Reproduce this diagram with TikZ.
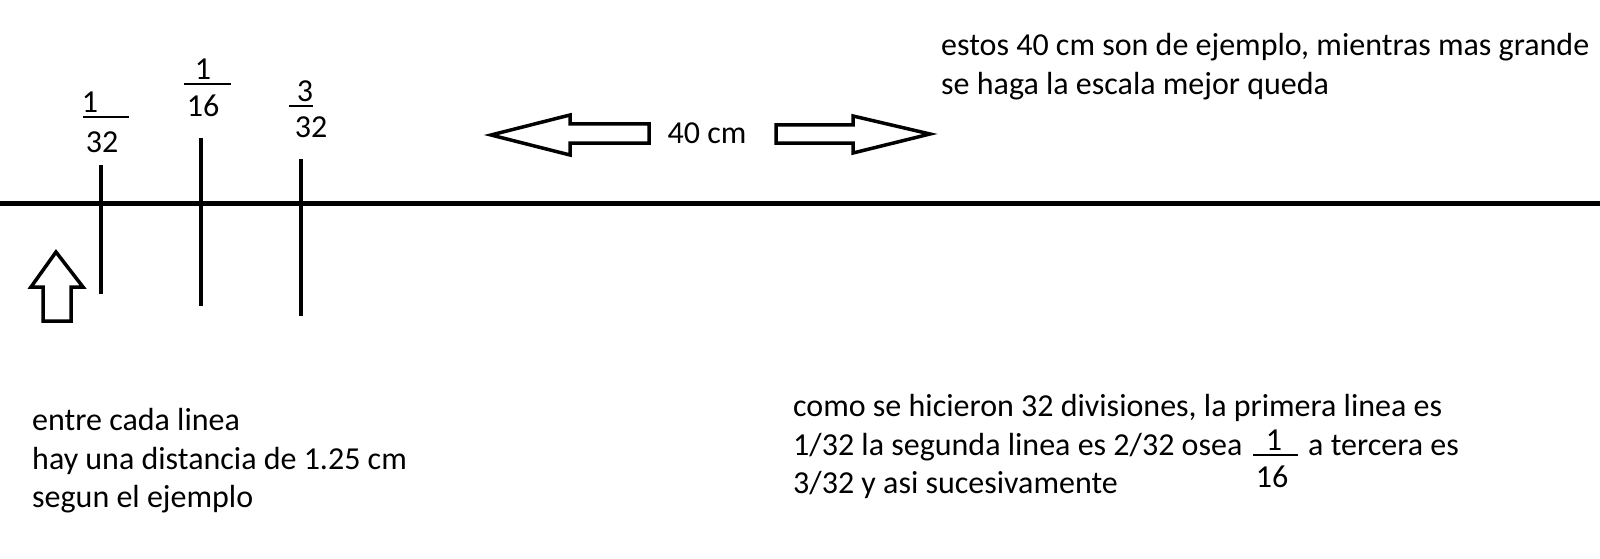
\documentclass[tikz,border=0pt]{standalone}
\usepackage{fontspec}
\setmainfont{Carlito}
\usetikzlibrary{positioning}

\begin{document}
\begin{tikzpicture}[x=1pt,y=-1pt,line join=miter]
  \tikzstyle{txt}=[inner sep=0pt,anchor=base west,font=\fontsize{32}{38.5}\selectfont]
  \tikzstyle{num}=[inner sep=0pt,anchor=base,font=\fontsize{32}{38.5}\selectfont]
  \tikzstyle{tick}=[line width=4.5pt]
  \tikzstyle{bar}=[line width=2pt]
  \tikzstyle{block}=[line width=3.5pt]

  \useasboundingbox (0,0) rectangle (1600,559);

  % main line
  \coordinate (L0) at (0,203.5);
  \coordinate (L1) at (1600,203.5);
  \draw[line width=5pt] (L0) -- (L1);

  % ticks
  \coordinate (T1a) at (101,165);
  \coordinate (T1b) at (101,294);
  \coordinate (T2a) at (201,138);
  \coordinate (T2b) at (201,306);
  \coordinate (T3a) at (301,159);
  \coordinate (T3b) at (301,316);
  \draw[tick] (T1a) -- (T1b);
  \draw[tick] (T2a) -- (T2b);
  \draw[tick] (T3a) -- (T3b);

  % fractions over the ticks
  \node[num] (n1) at (90,113) {1};
  \node[num] (d1) at (102,152) {32};
  \coordinate (b1a) at (83,117);
  \coordinate (b1b) at (129,117);
  \draw[bar] (b1a) -- (b1b);

  \node[num] (n2) at (203,80) {1};
  \node[num] (d2) at (203,117) {16};
  \coordinate (b2a) at (184,84);
  \coordinate (b2b) at (231,84);
  \draw[bar] (b2a) -- (b2b);

  \node[num] (n3) at (305,102) {3};
  \node[num] (d3) at (311,138) {32};
  \coordinate (b3a) at (289,106);
  \coordinate (b3b) at (313,106);
  \draw[bar] (b3a) -- (b3b);

  % block arrows
  \draw[block] (56,252) -- (83,287) -- (71,287) -- (71,321) -- (43,321)
               -- (43,287) -- (31,287) -- cycle;
  \draw[block] (491,135) -- (570,115) -- (570,124) -- (649,124) -- (649,143)
               -- (570,143) -- (570,155) -- cycle;
  \draw[block] (930,134) -- (853,116) -- (853,125) -- (776,125) -- (776,143)
               -- (853,143) -- (853,153) -- cycle;
  \node[num] (cm) at (707,143) {40 cm};

  % texts
  \node[txt] (top1) at (941,56) {estos 40 cm son de ejemplo, mientras mas grande};
  \node[txt] (top2) at (941,94.5) {se haga la escala mejor queda};

  \node[txt] (left1) at (32,430) {entre cada linea};
  \node[txt] (left2) at (32,469) {hay una distancia de 1.25 cm};
  \node[txt] (left3) at (32,507) {segun el ejemplo};

  \node[txt] (right1) at (793,416) {como se hicieron 32 divisiones, la primera linea es};
  \node[txt] (right2) at (793,455) {1/32 la segunda linea es 2/32 osea};
  \node[txt] (right2b) at (1308,455) {a tercera es};
  \node[txt] (right3) at (793,493) {3/32 y asi sucesivamente};
  \node[num] (n4) at (1274,450) {1};
  \node[num] (d4) at (1272,487) {16};
  \coordinate (b4a) at (1253,455);
  \coordinate (b4b) at (1298,455);
  \draw[bar] (b4a) -- (b4b);
\end{tikzpicture}
\end{document}
